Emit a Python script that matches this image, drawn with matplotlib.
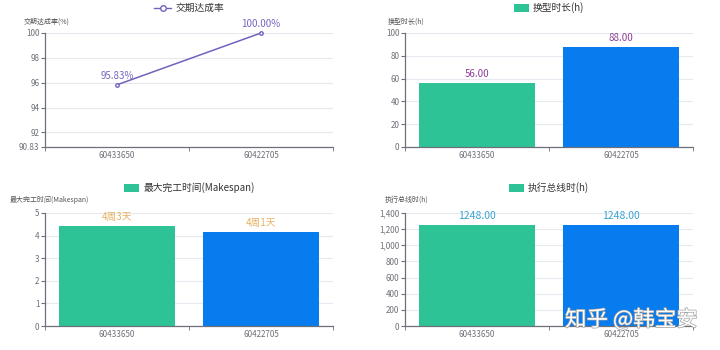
import matplotlib
matplotlib.use('Agg')
import matplotlib.pyplot as plt
from matplotlib.patches import Patch
from matplotlib.lines import Line2D
import matplotlib.patheffects as pe

plt.rcParams['font.family'] = ['Noto Sans CJK SC', 'DejaVu Sans']

# 数据
categories = ['60433650', '60422705']
rate = [95.83, 100.00]
rate_labels = ['95.83%', '100.00%']
changeover = [56.00, 88.00]
makespan = [4.43, 4.14]
makespan_labels = ['4周3天', '4周1天']
total_hours = [1248.00, 1248.00]

bar_colors = ['#2ec397', '#077cee']
axis_color = '#6e7079'
grid_color = '#e6e9f0'

W, H = 720, 350
fig = plt.figure(figsize=(7.2, 3.5), dpi=100)
fig.patch.set_facecolor('white')


def make_ax(x0, y0, x1, y1):
    # 像素坐标 -> figure 坐标
    return fig.add_axes([x0 / W, 1 - y1 / H, (x1 - x0) / W, (y1 - y0) / H])


def style(ax, yticks, ylabels, ymin, ymax):
    ax.set_xlim(-0.5, 1.5)
    ax.set_ylim(ymin, ymax)
    for s in ['top', 'right']:
        ax.spines[s].set_visible(False)
    for s in ['left', 'bottom']:
        ax.spines[s].set_color(axis_color)
        ax.spines[s].set_linewidth(0.9)
    ax.set_yticks(yticks)
    ax.set_yticklabels(ylabels)
    ax.set_xticks([0, 1])
    ax.set_xticklabels(categories)
    ax.set_xticks([-0.5, 0.5, 1.5], minor=True)
    ax.tick_params(axis='x', which='major', length=0, labelsize=5.8,
                   labelcolor=axis_color, pad=3)
    ax.tick_params(axis='x', which='minor', length=3, color=axis_color)
    ax.tick_params(axis='y', length=3, color=axis_color, labelsize=5.8,
                   labelcolor=axis_color, pad=1)
    ax.yaxis.grid(True, color=grid_color, linewidth=0.8)
    ax.set_axisbelow(True)


def bar_legend(ax, text):
    h = [Patch(facecolor=bar_colors[0], edgecolor='none')]
    ax.legend(h, [text], loc='lower center', bbox_to_anchor=(0.5, 1.13),
              frameon=False, fontsize=7, handlelength=1.6, handleheight=0.9,
              handletextpad=0.4, labelcolor='#333333', borderpad=0)


# 交期达成率
ax1 = make_ax(45, 33, 333, 147)
style(ax1, [90.83, 92, 94, 96, 98, 100],
      ['90.83', '92', '94', '96', '98', '100'], 90.83, 100)
ax1.plot([0, 1], rate, color='#6f63bd', linewidth=1.1, marker='o',
         markersize=2.5, markerfacecolor='white', markeredgecolor='#6f63bd',
         clip_on=False, zorder=3)
for i, v in enumerate(rate):
    ax1.annotate(rate_labels[i], (i, v), xytext=(0, 3), textcoords='offset points',
                 ha='center', va='bottom', fontsize=7, color='#7566c2')
h = [Line2D([0], [0], color='#6f63bd', linewidth=1, marker='o', markersize=4,
            markerfacecolor='white')]
ax1.legend(h, ['交期达成率'], loc='lower center', bbox_to_anchor=(0.5, 1.13),
           frameon=False, fontsize=7, handlelength=1.8, handletextpad=0.4,
           labelcolor='#333333', borderpad=0)
fig.text(24 / W, 1 - 22 / H, '交期达成率(%)', fontsize=5, color='#555555',
         va='center', ha='left')

# 换型时长
ax2 = make_ax(405, 33, 693, 147)
style(ax2, [0, 20, 40, 60, 80, 100], ['0', '20', '40', '60', '80', '100'], 0, 100)
ax2.bar([0, 1], changeover, width=0.8, color=bar_colors)
for i, v in enumerate(changeover):
    ax2.annotate('%.2f' % v, (i, v), xytext=(0, 3), textcoords='offset points',
                 ha='center', va='bottom', fontsize=7, color='#8e3f96')
bar_legend(ax2, '换型时长(h)')
fig.text(388 / W, 1 - 22 / H, '换型时长(h)', fontsize=5, color='#555555',
         va='center', ha='left')

# 最大完工时间
ax3 = make_ax(45, 213, 333, 326)
style(ax3, [0, 1, 2, 3, 4, 5], ['0', '1', '2', '3', '4', '5'], 0, 5)
ax3.bar([0, 1], makespan, width=0.8, color=bar_colors)
for i, v in enumerate(makespan):
    ax3.annotate(makespan_labels[i], (i, v), xytext=(0, 3), textcoords='offset points',
                 ha='center', va='bottom', fontsize=7, color='#e8b261')
bar_legend(ax3, '最大完工时间(Makespan)')
fig.text(10 / W, 1 - 200 / H, '最大完工时间(Makespan)', fontsize=5, color='#555555',
         va='center', ha='left')

# 执行总线时
ax4 = make_ax(405, 213, 693, 326)
yt = [0, 200, 400, 600, 800, 1000, 1200, 1400]
style(ax4, yt, ['{:,}'.format(t) for t in yt], 0, 1400)
ax4.bar([0, 1], total_hours, width=0.8, color=bar_colors)
for i, v in enumerate(total_hours):
    ax4.annotate('%.2f' % v, (i, v), xytext=(0, 3), textcoords='offset points',
                 ha='center', va='bottom', fontsize=7.5, color='#3aa2d4')
bar_legend(ax4, '执行总线时(h)')
fig.text(385 / W, 1 - 200 / H, '执行总线时(h)', fontsize=5, color='#555555',
         va='center', ha='left')

# 水印
fig.text(565 / W, 1 - 320 / H, '知乎 @韩宝安', fontsize=15.5, color='white',
         va='center', ha='left',
         path_effects=[pe.withStroke(linewidth=1.0, foreground='#a0a0a0')])

fig.savefig('out.png', dpi=100, facecolor='white')
